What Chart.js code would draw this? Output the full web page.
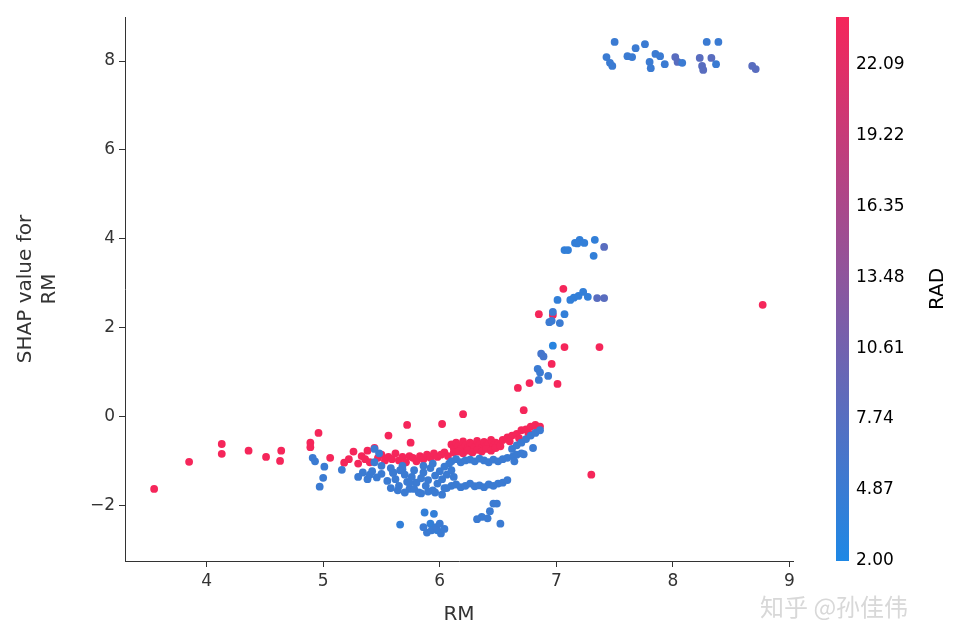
<!DOCTYPE html>
<html>
<head>
<meta charset="utf-8">
<script src="https://cdn.jsdelivr.net/npm/chart.js@4"></script>
<style>
  body { margin: 0; background: #fff; }
  #wrap { width: 966px; height: 643px; position: relative; }
  #mark { position: absolute; left: 760px; top: 588px; font: 24px "Noto Sans CJK SC"; color: #d8d8d8; }
</style>
</head>
<body>
<div id="wrap"><canvas id="chart" width="966" height="643"></canvas><div id="mark">知乎 @孙佳伟</div></div>
<script>
// RM, SHAP value, RAD for each sample
const rmValues = [
  // top cluster
  7.43, 7.50, 7.46, 7.48, 7.61, 7.68, 7.76, 7.65, 7.80, 7.85, 7.89, 7.81, 7.93, 8.02, 8.04, 8.08, 8.23, 8.25, 8.26, 8.29, 8.33, 8.39, 8.37, 8.68, 8.71,
  // ~3.8 cluster
  7.07, 7.10, 7.16, 7.20, 7.24, 7.33, 7.32, 7.41, 7.18,
  // rising part
  7.06, 7.01, 7.12, 7.15, 7.19, 7.23, 7.27, 7.35, 7.41, 6.85, 6.97, 6.97, 6.94, 6.96, 7.03, 7.07, 7.07, 6.97, 6.87, 6.89, 6.84, 6.86, 6.93, 6.96, 7.01, 6.85, 8.77, 7.37, 7.30, 6.67, 6.77,
  // left outliers
  3.55, 3.85, 4.13, 4.13, 4.36, 4.51, 4.63, 4.64, 4.89, 4.89, 4.96, 4.91, 4.93, 4.97, 5.01, 5.00, 5.06, 5.18, 5.16,
  // red band
  5.22, 5.26, 5.30, 5.33, 5.36, 5.40, 5.44, 5.47, 5.50, 5.53, 5.56, 5.59, 5.62, 5.65, 5.68, 5.71, 5.74, 5.77, 5.80, 5.83, 5.86, 5.89, 5.92, 5.95, 5.98, 6.01, 6.04, 6.07,
  6.10, 6.12, 6.14, 6.16, 6.18, 6.20, 6.22, 6.24, 6.26, 6.28, 6.30, 6.32, 6.34, 6.36, 6.38, 6.40, 6.42, 6.44, 6.46, 6.48, 6.50,
  6.12, 6.16, 6.20, 6.24, 6.28, 6.32, 6.36, 6.40, 6.44, 6.48, 6.52,
  6.54, 6.58, 6.62, 6.66, 6.70, 6.74, 6.78, 6.82, 6.86, 6.60, 6.68, 6.76, 6.84,
  5.72, 6.02, 6.20, 5.56, 5.75, 5.38, 6.72,
  // blue band ~ -1
  6.10, 6.14, 6.18, 6.22, 6.26, 6.30, 6.34, 6.38, 6.42, 6.46, 6.50, 6.54, 6.58, 6.63, 6.66, 6.70,
  6.62, 6.66, 6.70, 6.74, 6.78, 6.82, 6.86, 6.64, 6.72, 6.80,
  // blue band ~ -1.55
  6.10, 6.14, 6.18, 6.22, 6.26, 6.30, 6.34, 6.38, 6.42, 6.46, 6.50, 6.54, 6.58,
  // blue left cluster
  5.30, 5.34, 5.38, 5.40, 5.44, 5.48, 5.42, 5.46, 5.50, 5.55, 5.58, 5.60, 5.62, 5.65, 5.68, 5.70, 5.72, 5.74, 5.76, 5.78, 5.80, 5.82, 5.84, 5.86, 5.88, 5.90, 5.92, 5.94, 5.96, 5.98, 6.00, 6.02, 6.04, 6.06, 6.08,
  5.64, 5.70, 5.78, 5.84, 5.90, 5.96, 6.02, 6.06, 5.60, 5.68, 5.86, 5.94, 6.04, 6.10, 6.12,
  5.44, 5.50, 5.58, 5.66, 5.74,
  // bottom clusters
  5.66, 5.87, 5.92, 5.95, 5.98, 5.86, 5.89, 5.93, 5.97, 6.01, 6.04, 6.00, 6.36, 6.41, 6.32, 6.46, 6.43, 6.52, 6.49
];
const shapValues = [
  8.09, 8.43, 7.96, 7.89, 8.11, 8.29, 8.38, 8.09, 7.98, 8.16, 8.11, 7.84, 7.93, 8.09, 7.98, 7.96, 8.07, 7.89, 7.80, 8.43, 8.07, 8.43, 7.93, 7.89, 7.82,
  3.75, 3.75, 3.91, 3.98, 3.91, 3.98, 3.62, 3.82, 3.90,
  2.88, 2.63, 2.63, 2.68, 2.72, 2.81, 2.70, 2.67, 2.67, 2.31, 2.29, 2.36, 2.13, 2.16, 2.11, 2.31, 1.57, 1.60, 1.42, 1.36, 1.08, 1.00, 0.92, 1.19, 0.74, 0.83, 2.52, 1.57, -1.30, 0.65, 0.76,
  -1.62, -1.01, -0.61, -0.83, -0.76, -0.90, -0.99, -0.76, -0.58, -0.68, -0.36, -0.92, -1.00, -1.57, -1.12, -1.37, -0.92, -1.03, -1.19,
  -0.95, -0.78, -1.05, -0.88, -0.95, -1.02, -0.70, -0.92, -0.85, -0.98, -0.90, -0.95, -0.82, -0.98, -0.90, -1.02, -0.88, -0.92, -1.00, -0.88, -0.95, -0.85, -0.92, -0.82, -0.90, -0.85, -0.80, -0.88,
  -0.62, -0.70, -0.58, -0.66, -0.72, -0.55, -0.64, -0.70, -0.58, -0.62, -0.68, -0.54, -0.62, -0.70, -0.56, -0.64, -0.60, -0.52, -0.66, -0.58, -0.62,
  -0.80, -0.78, -0.82, -0.76, -0.80, -0.74, -0.78, -0.72, -0.76, -0.70, -0.66,
  -0.52, -0.46, -0.42, -0.38, -0.30, -0.28, -0.22, -0.18, -0.22, -0.55, -0.48, -0.36, -0.30,
  -0.18, -0.16, 0.06, -0.42, -0.58, -0.76, 0.15,
  -1.00, -0.95, -1.02, -0.98, -0.96, -1.00, -0.94, -0.98, -1.02, -0.96, -1.00, -0.95, -0.92, -0.88, -0.85, -0.82,
  -0.72, -0.64, -0.58, -0.50, -0.42, -0.36, -0.30, -1.00, -0.84, -0.70,
  -1.55, -1.52, -1.58, -1.55, -1.50, -1.56, -1.54, -1.58, -1.52, -1.55, -1.50, -1.48, -1.42,
  -1.35, -1.25, -1.40, -1.30, -0.72, -0.82, -1.22, -1.36, -1.28, -1.44, -1.60, -1.26, -1.40, -1.55, -1.18, -1.30, -1.46, -1.62, -1.35, -1.20, -1.48, -1.70, -1.38, -1.25, -1.55, -1.42, -1.15, -1.65, -1.32, -1.50, -1.22, -1.40, -1.60, -1.30, -1.05,
  -1.65, -1.70, -1.62, -1.72, -1.68, -1.70, -1.75, -1.60, -1.25, -1.10, -1.10, -1.05, -1.12, -1.20, -1.35,
  -1.02, -1.10, -1.15, -1.20, -1.48,
  -2.42, -2.15, -2.40, -2.18, -2.55, -2.48, -2.60, -2.55, -2.48, -2.62, -2.52, -2.40, -2.25, -2.28, -2.30, -1.95, -2.12, -2.40, -1.95
];
const radValues = [
  5, 5, 5, 5, 5, 5, 5, 5, 5, 5, 5, 5, 5, 8, 8, 5, 8, 8, 8, 5, 8, 5, 5, 8, 8,
  4, 4, 4, 4, 4, 4, 4, 8, 4,
  24, 4, 4, 4, 4, 4, 4, 8, 8, 24, 24, 5, 5, 5, 5, 4, 24, 3, 6, 6, 5, 5, 5, 24, 24, 5, 24, 24, 24, 24, 24,
  24, 24, 24, 24, 24, 24, 24, 24, 24, 24, 24, 5, 5, 5, 5, 5, 24, 24, 5,
  24, 24, 24, 24, 24, 24, 24, 24, 24, 24, 24, 24, 24, 24, 24, 24, 24, 24, 24, 24, 24, 24, 24, 24, 24, 24, 24, 24,
  24, 24, 24, 24, 24, 24, 24, 24, 24, 24, 24, 24, 24, 24, 24, 24, 24, 24, 24, 24, 24,
  24, 24, 24, 24, 24, 24, 24, 24, 24, 24, 24,
  24, 24, 24, 24, 24, 24, 24, 24, 24, 24, 24, 24, 24,
  24, 24, 24, 24, 24, 24, 24,
  5, 5, 5, 5, 5, 5, 5, 5, 5, 5, 5, 5, 5, 5, 5, 5,
  5, 5, 5, 5, 5, 5, 5, 5, 5, 5,
  5, 5, 5, 5, 5, 5, 5, 5, 5, 5, 5, 5, 5,
  5, 5, 5, 5, 5, 5, 5, 5, 5, 5, 5, 5, 5, 5, 5, 5, 5, 5, 5, 5, 5, 5, 5, 5, 5, 5, 5, 5, 5, 5, 5, 5, 5, 5, 5,
  5, 5, 5, 5, 5, 5, 5, 5, 5, 5, 5, 5, 5, 5, 5,
  5, 5, 5, 5, 5,
  4, 4, 4, 4, 4, 5, 5, 5, 5, 5, 5, 5, 5, 5, 5, 5, 5, 5, 5
];
const xTicks = [4, 5, 6, 7, 8, 9];
const yTicks = [-2, 0, 2, 4, 6, 8];
const barTicks = [2.00, 4.87, 7.74, 10.61, 13.48, 16.35, 19.22, 22.09];
const radMin = 2, radMax = 24;

const blue = [30, 136, 229], red = [245, 38, 90];
function radColor(v) {
  const t = Math.max(0, Math.min(1, (v - radMin) / (radMax - radMin)));
  const c = blue.map((b, i) => Math.round(b + (red[i] - b) * t));
  return `rgb(${c[0]},${c[1]},${c[2]})`;
}

const points = rmValues.map((x, i) => ({ x: x, y: shapValues[i] }));

const colorBar = {
  id: 'colorBar',
  afterDraw(chart) {
    const ctx = chart.ctx;
    const top = chart.chartArea.top, bottom = chart.chartArea.bottom;
    const left = 836, width = 13;
    const grad = ctx.createLinearGradient(0, bottom, 0, top);
    grad.addColorStop(0, radColor(radMin));
    grad.addColorStop(1, radColor(radMax));
    ctx.save();
    ctx.fillStyle = grad;
    ctx.fillRect(left, top, width, bottom - top);
    ctx.fillStyle = '#000';
    ctx.font = '17px "DejaVu Sans"';
    ctx.textBaseline = 'middle';
    barTicks.forEach(v => {
      const y = bottom - (v - radMin) / (radMax - radMin) * (bottom - top);
      ctx.fillText(v.toFixed(2), left + width + 7, y);
    });
    ctx.translate(938, (top + bottom) / 2);
    ctx.rotate(-Math.PI / 2);
    ctx.textAlign = 'center';
    ctx.font = '20px "DejaVu Sans"';
    ctx.fillText('RAD', 0, 0);
    ctx.restore();
  }
};

const tickFont = { family: 'DejaVu Sans', size: 17 };
const titleFont = { family: 'DejaVu Sans', size: 20 };

new Chart(document.getElementById('chart'), {
  type: 'scatter',
  data: {
    datasets: [{
      data: points,
      pointRadius: 3.9,
      pointHoverRadius: 3.9,
      borderWidth: 0,
      backgroundColor: ctx => radColor(radValues[ctx.dataIndex])
    }]
  },
  options: {
    responsive: false,
    animation: false,
    layout: { padding: { top: 17, right: 173, left: 10, bottom: 12 } },
    plugins: { legend: { display: false }, tooltip: { enabled: false } },
    scales: {
      x: {
        min: 3.3, max: 9.03,
        afterBuildTicks: axis => { axis.ticks = xTicks.map(v => ({ value: v })); },
        afterFit: axis => { axis.height = 70; },
        grid: { drawOnChartArea: false, tickLength: 6, color: '#333' },
        border: { color: '#333' },
        ticks: { font: tickFont, color: '#333', padding: 4 },
        title: { display: true, text: 'RM', font: titleFont, color: '#333', padding: { top: 2 } }
      },
      y: {
        min: -3.24, max: 8.99,
        afterBuildTicks: axis => { axis.ticks = yTicks.map(v => ({ value: v })); },
        afterFit: axis => { axis.width = 115; },
        grid: { drawOnChartArea: false, tickLength: 6, color: '#333' },
        border: { color: '#333' },
        ticks: { font: tickFont, color: '#333', padding: 4, callback: v => v < 0 ? '\u2212' + Math.abs(v) : v },
        title: { display: true, text: ['SHAP value for', 'RM'], font: titleFont, color: '#333', padding: { bottom: 6 } }
      }
    }
  },
  plugins: [colorBar]
});
</script>
</body>
</html>
